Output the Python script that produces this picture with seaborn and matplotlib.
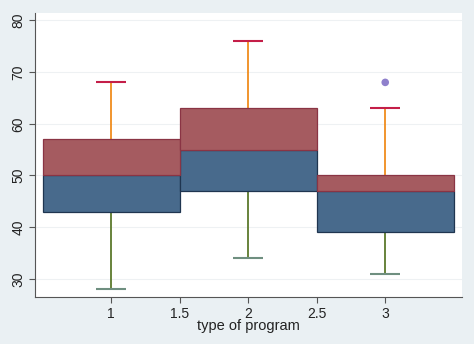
import matplotlib
matplotlib.use("Agg")
import matplotlib.pyplot as plt
import seaborn as sns
import pandas as pd

# Data
program = [1, 2, 3]
lower_adj = [28, 34, 31]
q1 = [43, 47, 39]
median = [50, 55, 47]
q3 = [57, 63, 50]
upper_adj = [68, 76, 63]
outlier_x = [3]
outlier_y = [68]

xticks = [1, 1.5, 2, 2.5, 3]
xtick_labels = ["1", "1.5", "2", "2.5", "3"]
yticks = [30, 40, 50, 60, 70, 80]

sns.set_style("white")
plt.rcParams['font.family'] = ['Liberation Sans', 'DejaVu Sans']

df = pd.DataFrame({"program": program, "q1": q1, "median": median, "q3": q3,
                   "lower": lower_adj, "upper": upper_adj})
df["lower_h"] = df["median"] - df["q1"]
df["upper_h"] = df["q3"] - df["median"]

fig = plt.figure(figsize=(4.74, 3.44), dpi=100)
fig.patch.set_facecolor("#eaf0f3")
ax = fig.add_axes([0.0738, 0.1366, 0.9009, 0.8254])
ax.set_facecolor("white")

# grid lines
for y in yticks:
    ax.axhline(y, color="#eef1f3", lw=0.8, zorder=0)

# whiskers
ax.vlines(df["program"], df["q3"], df["upper"], color="#f08c1e", lw=1.3, zorder=1)
ax.vlines(df["program"], df["lower"], df["q1"], color="#5c7a2c", lw=1.3, zorder=1)
ax.hlines(df["upper"], df["program"] - 0.11, df["program"] + 0.11, color="#c41e48", lw=1.5, zorder=1)
ax.hlines(df["lower"], df["program"] - 0.11, df["program"] + 0.11, color="#6f8f80", lw=1.5, zorder=1)

# box halves
sns.barplot(data=df, x="program", y="lower_h", bottom=df["q1"].values, native_scale=True,
            width=1.0, errorbar=None, color="#486a8c", saturation=1, edgecolor="#1f3550",
            linewidth=0.9, ax=ax, zorder=2)
sns.barplot(data=df, x="program", y="upper_h", bottom=df["median"].values, native_scale=True,
            width=1.0, errorbar=None, color="#a55b60", saturation=1, edgecolor="#8a3444",
            linewidth=0.9, ax=ax, zorder=2)

sns.scatterplot(x=outlier_x, y=outlier_y, color="#8f80cc", s=30, edgecolor="none", ax=ax, zorder=3)

ax.set_xlim(0.445, 3.56)
ax.set_ylim(26.5, 81.4)
ax.set_xticks(xticks)
ax.set_xticklabels(xtick_labels)
ax.set_yticks(yticks)
ax.set_yticklabels([str(v) for v in yticks], rotation=90, va="center")
ax.tick_params(axis="both", direction="out", length=4, width=0.8, color="#555555",
               labelsize=10, labelcolor="#222222", pad=3, bottom=True, left=True)
ax.set_xlabel("type of program", fontsize=10.5, color="#222222", labelpad=-1)
ax.set_ylabel("")

for side in ["top", "right"]:
    ax.spines[side].set_visible(False)
for side in ["left", "bottom"]:
    ax.spines[side].set_color("#555555")
    ax.spines[side].set_linewidth(0.8)

fig.savefig("out.png", dpi=100, facecolor=fig.get_facecolor())
